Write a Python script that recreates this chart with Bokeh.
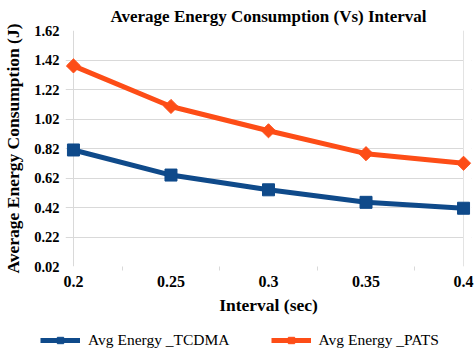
import math
from bokeh.plotting import figure
from bokeh.layouts import column
from bokeh.models import Range1d, FixedTicker, Legend, LegendItem, BoxAnnotation
from bokeh.embed import file_html
from bokeh.resources import INLINE

# ---- data ----
intervals = [0.2, 0.25, 0.3, 0.35, 0.4]
x_tick_labels = ["0.2", "0.25", "0.3", "0.35", "0.4"]
energy_tcdma = [0.81, 0.64, 0.54, 0.455, 0.415]
energy_pats = [1.38, 1.105, 0.94, 0.785, 0.72]
y_ticks = [0.02, 0.22, 0.42, 0.62, 0.82, 1.02, 1.22, 1.42, 1.62]
y_tick_labels = ["0.02", "0.22", "0.42", "0.62", "0.82", "1.02", "1.22", "1.42", "1.62"]
series_names = ["Avg Energy _TCDMA", "Avg Energy _PATS"]

FONT = "Liberation Serif"
BLUE = "#0f4a8a"
ORANGE = "#fd4d17"
GRID = "#d9d9d9"

pad = (intervals[-1] - intervals[0]) * 8 / 392
p = figure(width=474, height=320, output_backend="svg", toolbar_location=None,
           x_range=Range1d(intervals[0] - pad, intervals[-1] + pad),
           y_range=Range1d(y_ticks[0], y_ticks[-1]),
           min_border_left=63, min_border_right=3, min_border_top=30, min_border_bottom=54,
           title="Average Energy Consumption (Vs) Interval")

p.title.align = "center"
p.title.text_font = FONT
p.title.text_font_size = "17px"
p.title.text_font_style = "bold"
p.title.text_color = "black"
p.title.standoff = 9

p.outline_line_color = None
p.background_fill_color = "white"
p.border_fill_color = "white"

# grids
p.xgrid.ticker = FixedTicker(ticks=[intervals[0], intervals[-1]])
p.xgrid.grid_line_color = GRID
p.ygrid.ticker = FixedTicker(ticks=y_ticks)
p.ygrid.grid_line_color = GRID

# cover gridline extension to the right of the last category
p.add_layout(BoxAnnotation(left=intervals[-1] + 0.0001, level="underlay",
                           fill_color="white", fill_alpha=1, line_alpha=0))

# x axis
mids = [(a + b) / 2 for a, b in zip(intervals[:-1], intervals[1:])]
xa = p.xaxis[0]
xa.ticker = FixedTicker(ticks=intervals, minor_ticks=mids)
xa.major_label_overrides = {v: t for v, t in zip(intervals, x_tick_labels)}
xa.axis_line_color = None
xa.major_tick_line_color = None
xa.major_tick_out = 0
xa.minor_tick_line_color = GRID
xa.minor_tick_out = 4
xa.minor_tick_in = 0
xa.major_label_standoff = 5
xa.major_label_text_font = FONT
xa.major_label_text_font_size = "16px"
xa.major_label_text_font_style = "bold"
xa.major_label_text_color = "black"
xa.axis_label = "Interval (sec)"
xa.axis_label_text_font = FONT
xa.axis_label_text_font_size = "17.5px"
xa.axis_label_text_font_style = "bold"
xa.axis_label_text_color = "black"
xa.axis_label_standoff = 5

# y axis
ya = p.yaxis[0]
ya.ticker = FixedTicker(ticks=y_ticks)
ya.major_label_overrides = {v: t for v, t in zip(y_ticks, y_tick_labels)}
ya.axis_line_color = None
ya.major_tick_line_color = None
ya.minor_tick_line_color = None
ya.major_tick_out = 0
ya.major_tick_in = 0
ya.minor_tick_out = 0
ya.minor_tick_in = 0
ya.major_label_standoff = 6
ya.major_label_text_font = FONT
ya.major_label_text_font_size = "14.5px"
ya.major_label_text_font_style = "bold"
ya.major_label_text_color = "black"
ya.axis_label = "Average Energy Consumption (J)"
ya.axis_label_text_font = FONT
ya.axis_label_text_font_size = "17.5px"
ya.axis_label_text_font_style = "bold"
ya.axis_label_text_color = "black"
ya.axis_label_standoff = 8

# series
lb = p.line(intervals, energy_tcdma, line_color=BLUE, line_width=5)
sb = p.scatter(intervals, energy_tcdma, marker="square", size=12, fill_color=BLUE, line_color=BLUE)
lo = p.line(intervals, energy_pats, line_color=ORANGE, line_width=5)
so = p.scatter(intervals, energy_pats, marker="square", angle=math.pi / 4, size=10,
               fill_color=ORANGE, line_color=ORANGE)

# legend strip below the chart (series drawn out of its view, only the key shows)
lf = figure(width=474, height=30, output_backend="svg", toolbar_location=None,
            x_range=Range1d(10, 11), y_range=Range1d(10, 11),
            x_axis_location=None, y_axis_location=None,
            min_border=0, min_border_left=0, min_border_right=0,
            min_border_top=0, min_border_bottom=0)
lf.grid.visible = False
lf.outline_line_color = None
lf.background_fill_color = "white"
lf.border_fill_color = "white"
klb = lf.line(intervals, energy_tcdma, line_color=BLUE, line_width=5)
ksb = lf.scatter(intervals, energy_tcdma, marker="square", size=12, fill_color=BLUE, line_color=BLUE)
klo = lf.line(intervals, energy_pats, line_color=ORANGE, line_width=5)
kso = lf.scatter(intervals, energy_pats, marker="square", angle=math.pi / 4, size=10,
                 fill_color=ORANGE, line_color=ORANGE)

legend = Legend(items=[LegendItem(label=series_names[0], renderers=[klb, ksb]),
                       LegendItem(label=series_names[1], renderers=[klo, kso])],
                orientation="horizontal", location=(40, 1),
                glyph_width=40, glyph_height=16, label_standoff=8, spacing=41,
                padding=0, margin=0, border_line_color=None, background_fill_alpha=0,
                label_text_font=FONT, label_text_font_size="15.5px", label_text_color="black")
lf.add_layout(legend)

for fig in (p, lf):
    if "frame_align" in type(fig).properties():
        fig.frame_align = False

layout = column(p, lf, spacing=0)
open("out.html", "w").write(file_html(layout, INLINE))
